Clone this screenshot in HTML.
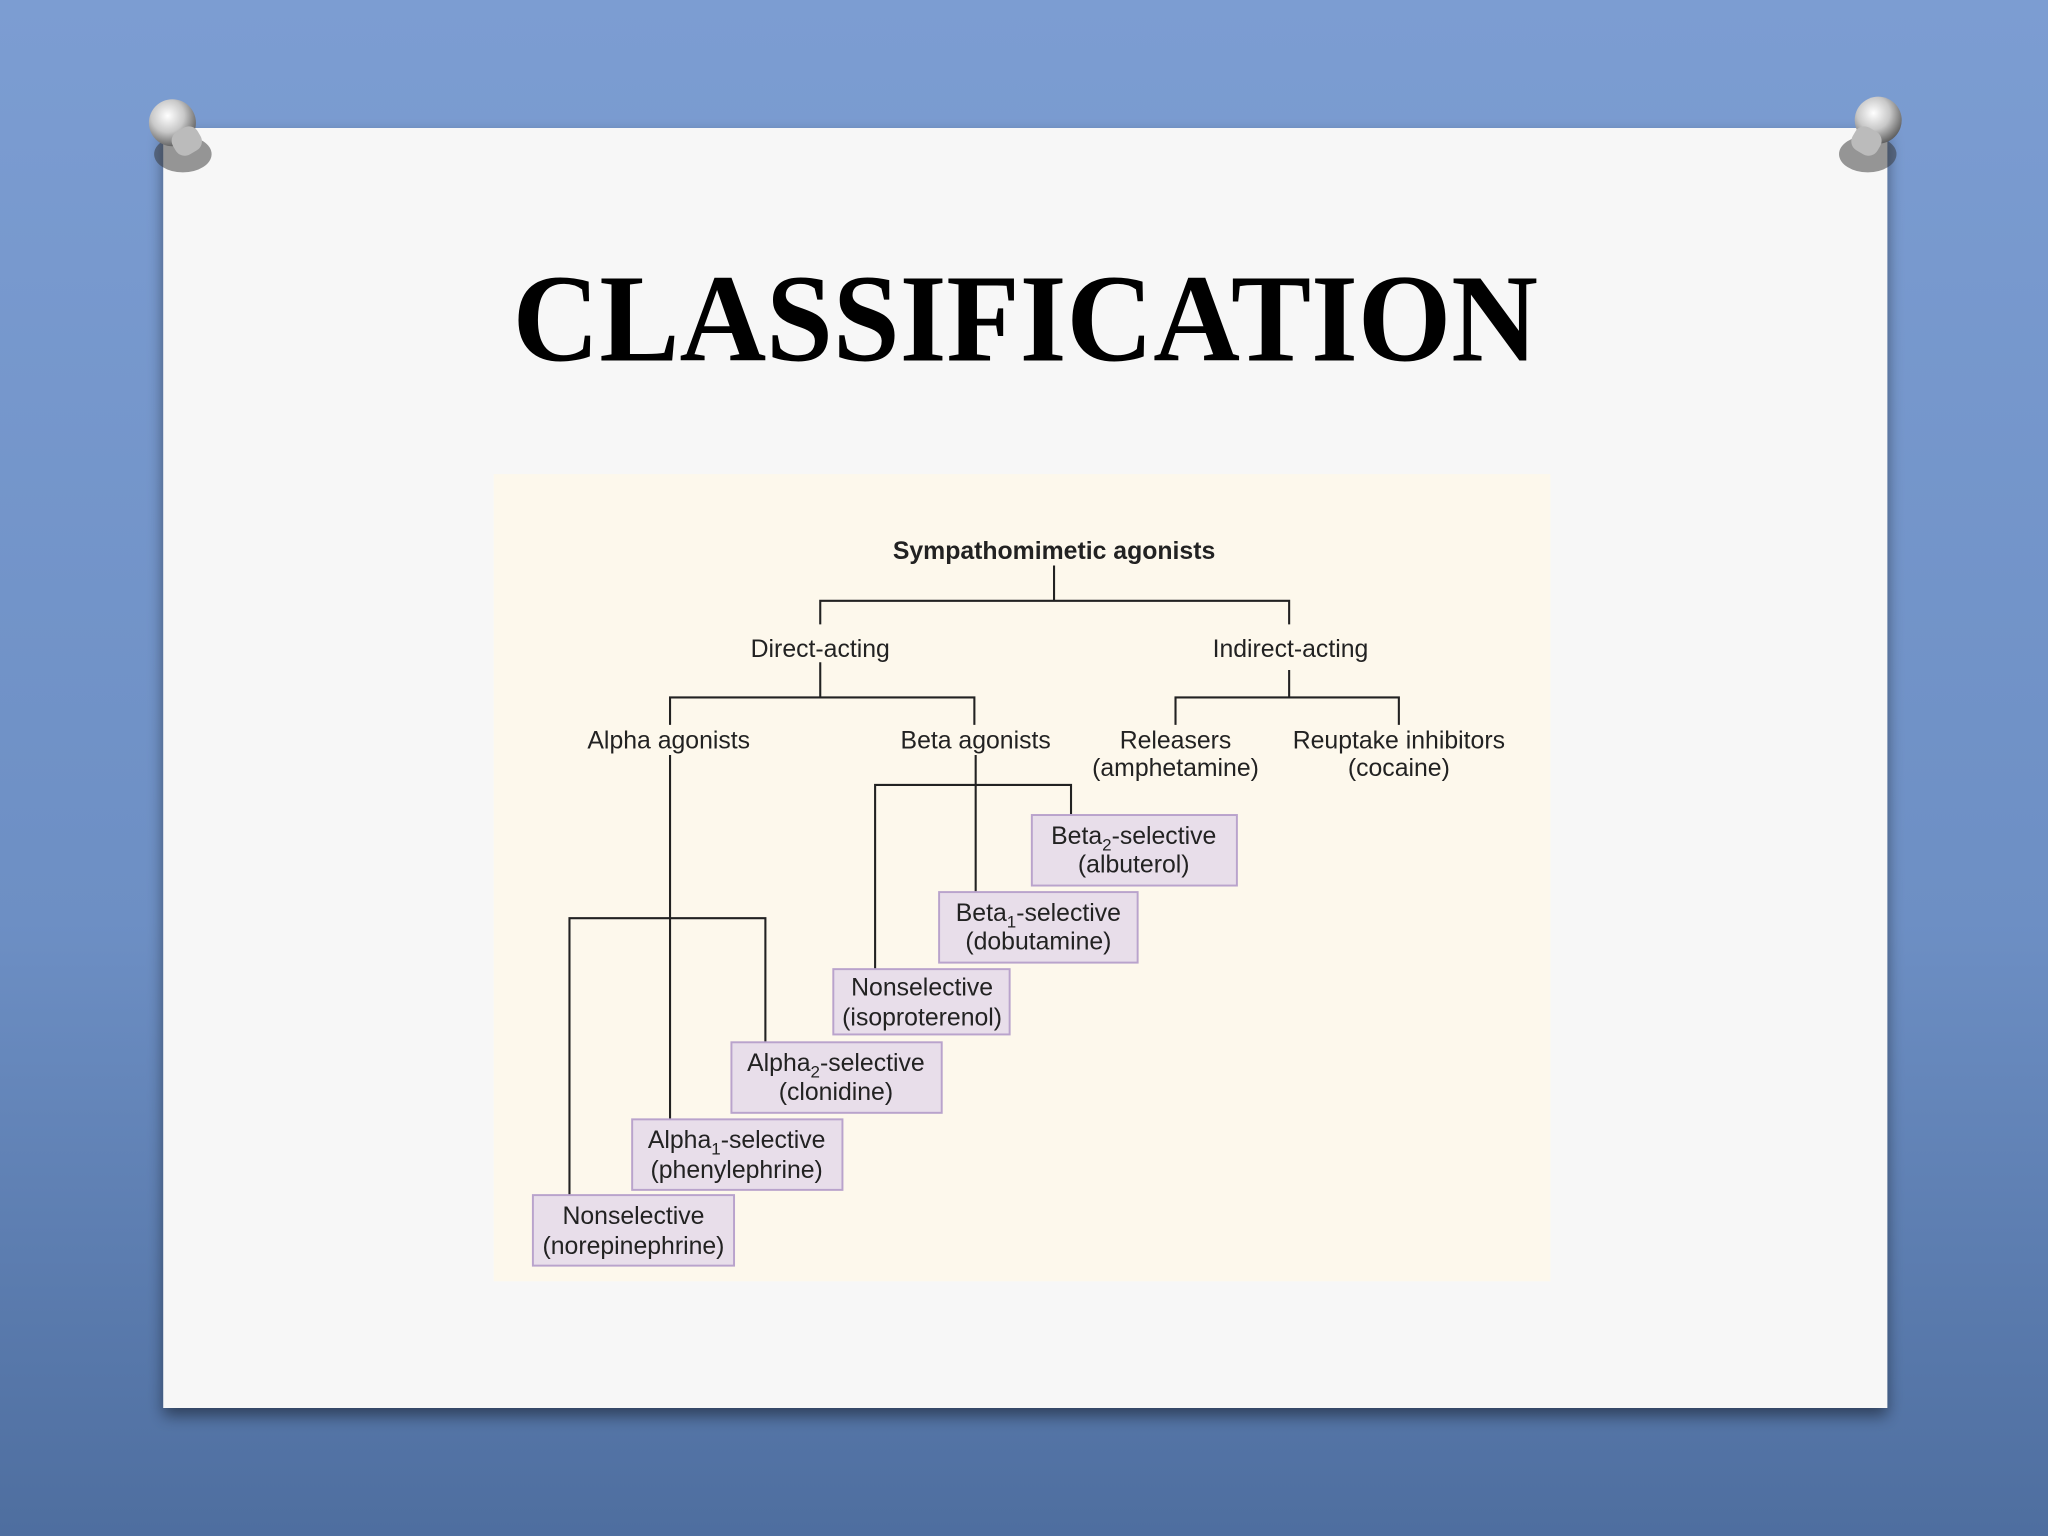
<!DOCTYPE html>
<html><head><meta charset="utf-8"><style>
html,body{margin:0;padding:0;width:2048px;height:1536px;overflow:hidden;background:#7596c8}
svg{display:block}
</style></head><body>
<svg width="2048" height="1536" viewBox="0 0 1568 1176" xmlns="http://www.w3.org/2000/svg">
<defs>
<linearGradient id="bg" x1="0" y1="0" x2="0" y2="1">
<stop offset="0" stop-color="#7c9dd2"/><stop offset="0.6" stop-color="#6d8fc4"/><stop offset="1" stop-color="#4e6e9f"/>
</linearGradient>
<radialGradient id="pin" cx="0.4" cy="0.35" r="0.7">
<stop offset="0" stop-color="#ffffff"/><stop offset="0.5" stop-color="#c8c8c8"/><stop offset="1" stop-color="#555"/>
</radialGradient>
<filter id="sh" x="-5%" y="-5%" width="110%" height="115%"><feDropShadow dx="0" dy="6" stdDeviation="6" flood-color="#000" flood-opacity="0.45"/></filter>
</defs>
<rect width="1568" height="1176" fill="url(#bg)"/>
<rect x="125" y="98" width="1320" height="980" fill="#f7f7f7" filter="url(#sh)"/>
<g>
<ellipse cx="140" cy="118" rx="22" ry="14" fill="#333" opacity="0.5"/>
<circle cx="132" cy="94" r="18" fill="url(#pin)"/>
<rect x="132" y="98" width="22" height="20" rx="8" fill="#bbb" transform="rotate(-30 143 108)"/>
<ellipse cx="1430" cy="118" rx="22" ry="14" fill="#333" opacity="0.5"/>
<circle cx="1438" cy="92" r="18" fill="url(#pin)"/>
<rect x="1418" y="98" width="22" height="20" rx="8" fill="#bbb" transform="rotate(30 1429 108)"/>
</g>
<text x="785" y="276" text-anchor="middle" font-family="Liberation Serif, serif" font-weight="bold" font-size="96" textLength="785" lengthAdjust="spacingAndGlyphs" fill="#000">CLASSIFICATION</text>
<rect x="378" y="363" width="809" height="618" fill="#fdf8ec"/>
<g stroke="#222" stroke-width="1.6" fill="none">
<path d="M807 433V460M628 478V460H987V478"/>
<path d="M628 507V534M513 555V534H746V555"/>
<path d="M987 513V534M900 555V534H1071V555"/>
<path d="M747 578V683M670 742V601H820V624"/>
<path d="M513 578V857M436 915V703H586V798"/>
</g>
<g fill="#e8deea" stroke="#b9a3cc" stroke-width="1.5">
<rect x="790" y="624" width="157" height="54"/>
<rect x="719" y="683" width="152" height="54"/>
<rect x="638" y="742" width="135" height="50"/>
<rect x="560" y="798" width="161" height="54"/>
<rect x="484" y="857" width="161" height="54"/>
<rect x="408" y="915" width="154" height="54"/>
</g>
<g font-family="Liberation Sans, sans-serif" font-size="19" fill="#222" text-anchor="middle">
<text x="807" y="428" font-weight="bold">Sympathomimetic agonists</text>
<text x="628" y="503">Direct-acting</text>
<text x="988" y="503">Indirect-acting</text>
<text x="512" y="573">Alpha agonists</text>
<text x="747" y="573">Beta agonists</text>
<text x="900" y="573">Releasers</text>
<text x="900" y="594">(amphetamine)</text>
<text x="1071" y="573">Reuptake inhibitors</text>
<text x="1071" y="594">(cocaine)</text>
<text x="868" y="646">Beta<tspan font-size="13" dy="5">2</tspan><tspan dy="-5">-selective</tspan></text>
<text x="868" y="668">(albuterol)</text>
<text x="795" y="705">Beta<tspan font-size="13" dy="5">1</tspan><tspan dy="-5">-selective</tspan></text>
<text x="795" y="727">(dobutamine)</text>
<text x="706" y="762">Nonselective</text>
<text x="706" y="785">(isoproterenol)</text>
<text x="640" y="820">Alpha<tspan font-size="13" dy="5">2</tspan><tspan dy="-5">-selective</tspan></text>
<text x="640" y="842">(clonidine)</text>
<text x="564" y="879">Alpha<tspan font-size="13" dy="5">1</tspan><tspan dy="-5">-selective</tspan></text>
<text x="564" y="902">(phenylephrine)</text>
<text x="485" y="937">Nonselective</text>
<text x="485" y="960">(norepinephrine)</text>
</g>
</svg>
</body></html>
